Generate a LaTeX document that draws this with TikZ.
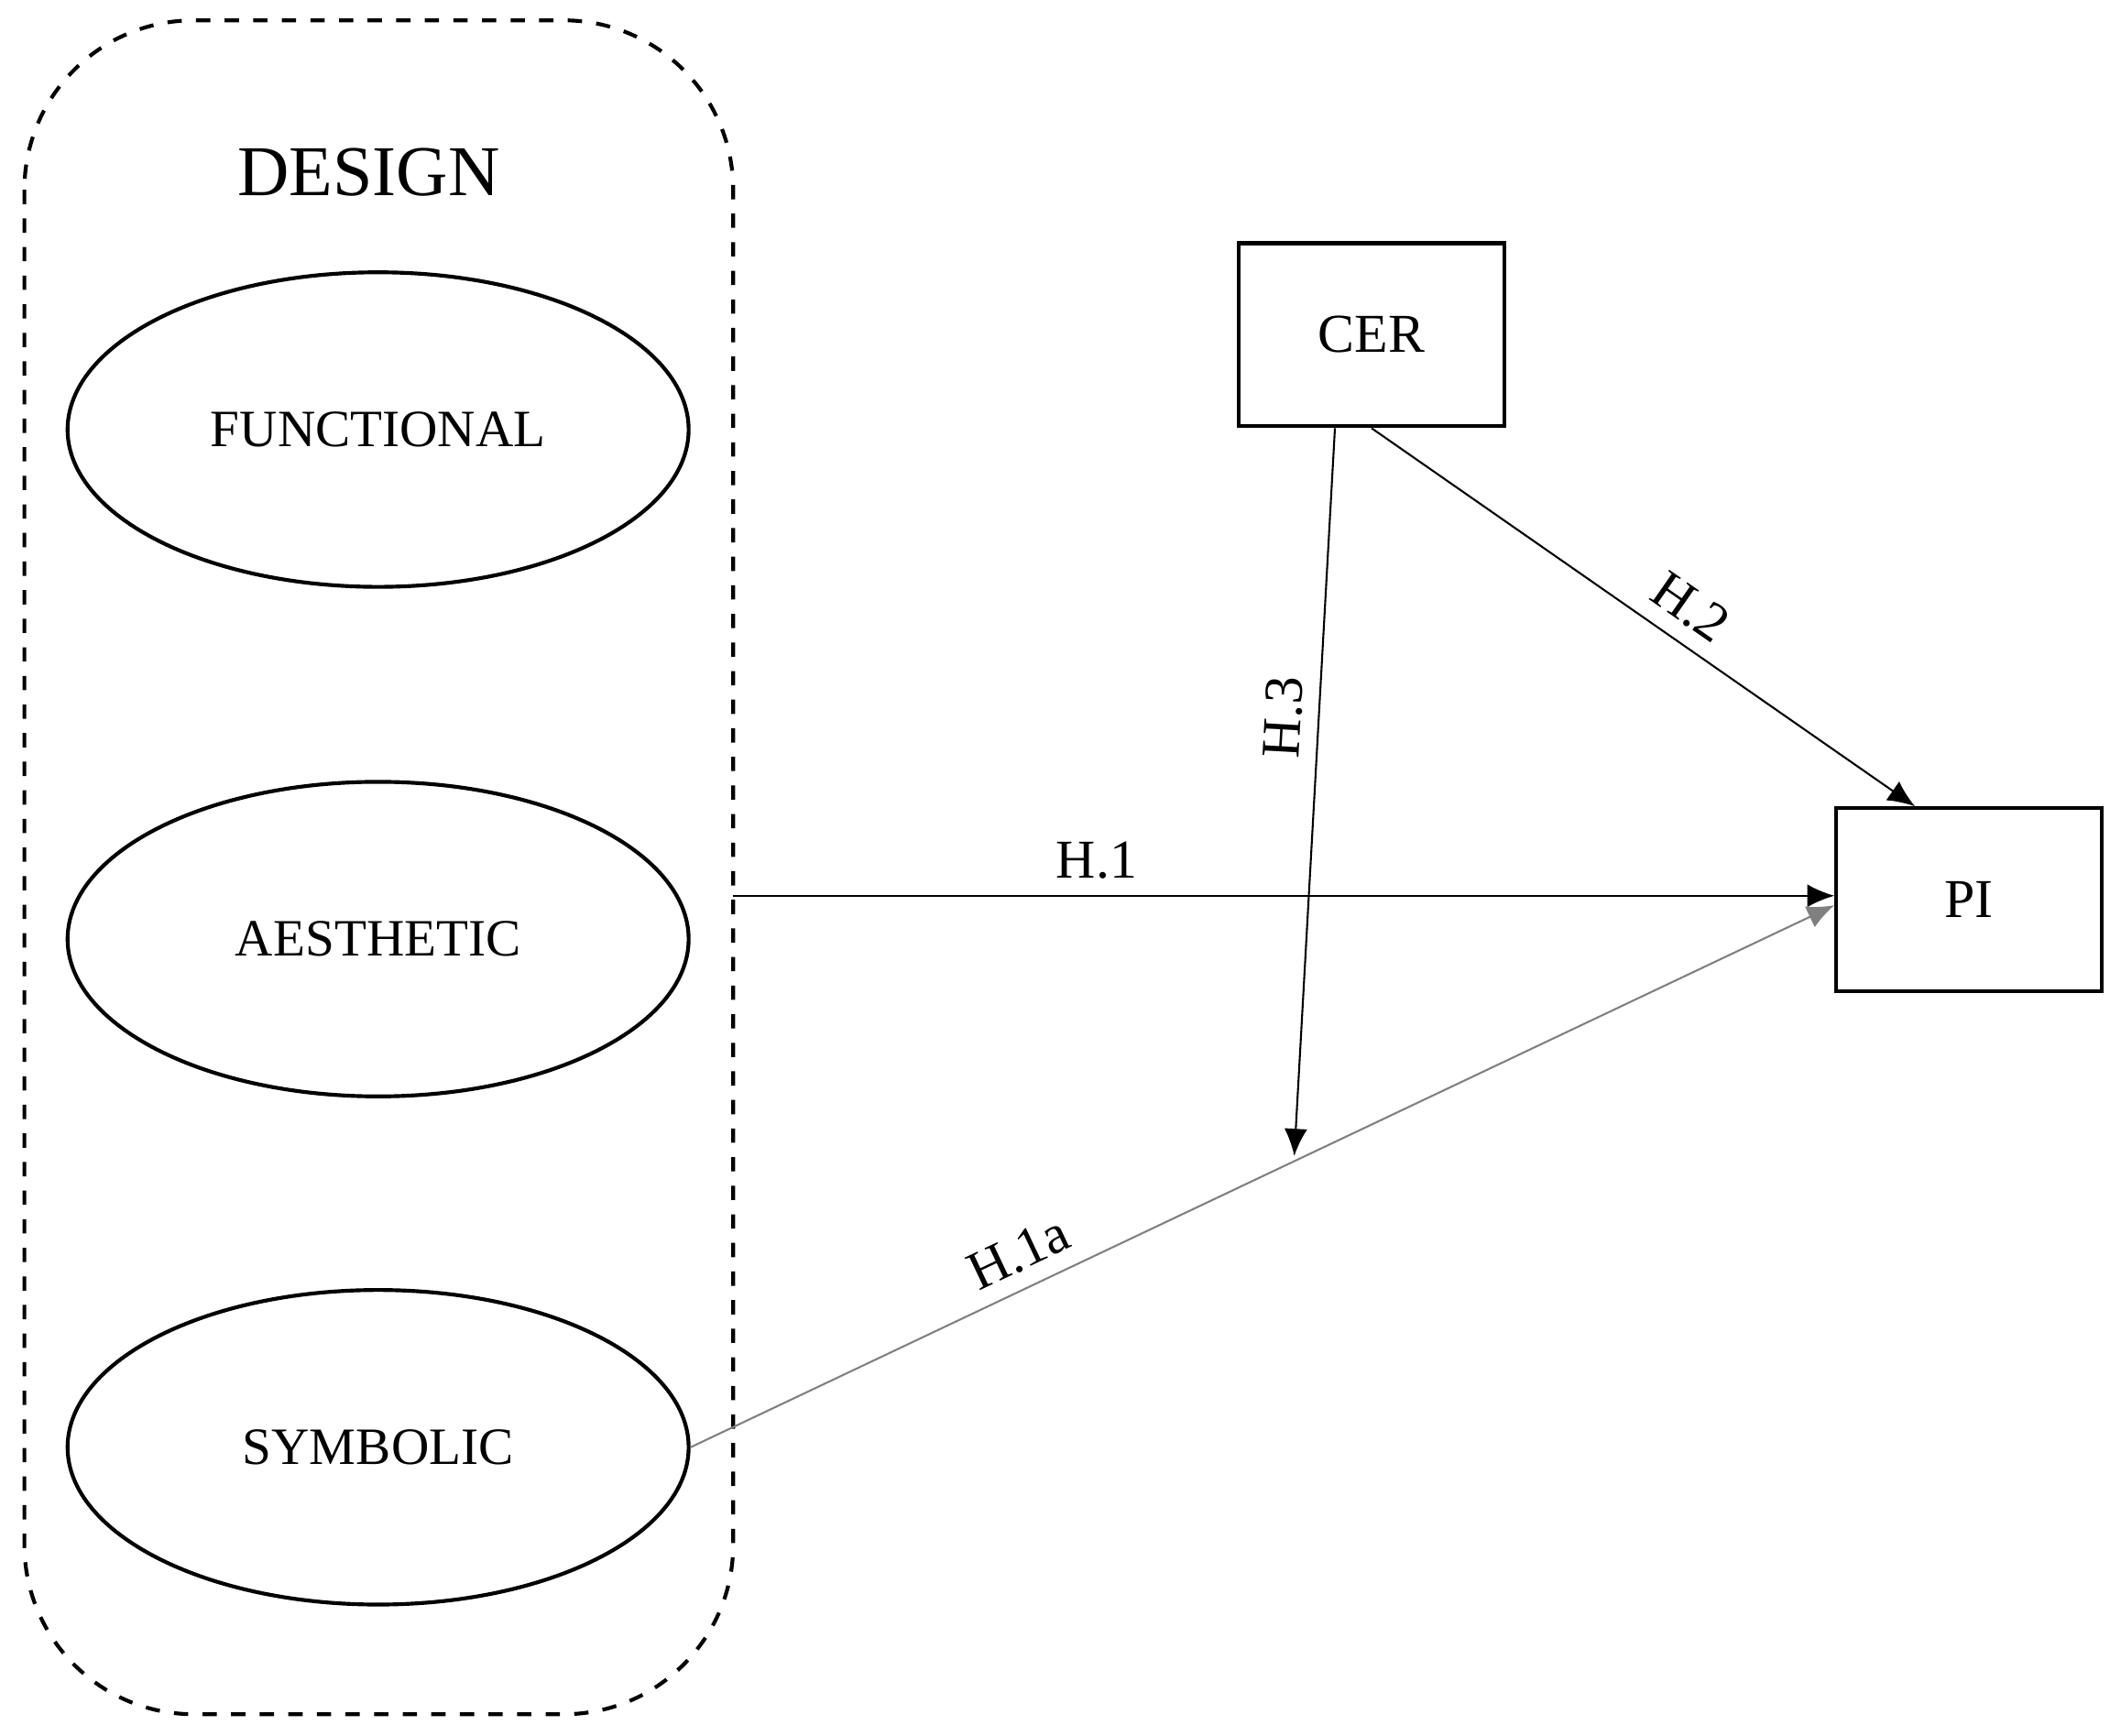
\documentclass[tikz,border=0pt]{standalone}
\usepackage{fontspec}
\setmainfont{Liberation Serif}
\usetikzlibrary{shapes.geometric,arrows.meta}
\begin{document}
\begin{tikzpicture}[x=0.01cm,y=-0.01cm,
	dim/.style={draw, thick, ellipse, minimum width=4.58cm, minimum height=2.32cm, font=\fontsize{11}{13}\selectfont},
	var/.style={draw, thick, minimum width=1.96cm, minimum height=1.35cm, font=\fontsize{11.5}{13}\selectfont},
	hyp/.style={font=\fontsize{11.5}{13}\selectfont},
	arr/.style={-{Latex[length=0.2cm,width=0.17cm]}}]
			\useasboundingbox (0,0) rectangle (1565,1281);
			\draw[thick, dashed, rounded corners=1.25cm](18,15) rectangle (541,1265);
			\node[font=\fontsize{15}{17}\selectfont] (design) at (272,127) {DESIGN};
			\node[dim] (fun) at (279,317) {FUNCTIONAL};
			\node[dim] (aes) at (279,693) {AESTHETIC};
			\node[dim] (sym) at (279,1068) {SYMBOLIC};
			\node[var] (cer) at (1012,247) {CER};
			\node[var] (pi) at (1453,664) {PI};
			\coordinate (h1s) at (541,661);
			\coordinate (h3e) at (955,853);
			\draw[arr](h1s)--(h1s-|pi.west)node[hyp, pos=0.33, above]{H.1};
			\draw[arr](cer.south)--(pi.north-|1413,0)node[hyp, pos=0.55, above, sloped]{H.2};
			\draw[arr](cer.south-|985,0)--(h3e)node[hyp, pos=0.4, above, sloped]{H.3};
			\draw[gray, arr](sym.east)--([yshift=-0.04cm]pi.west)node[hyp, black, pos=0.3, above, sloped]{H.1a};
		\end{tikzpicture}
\end{document}
